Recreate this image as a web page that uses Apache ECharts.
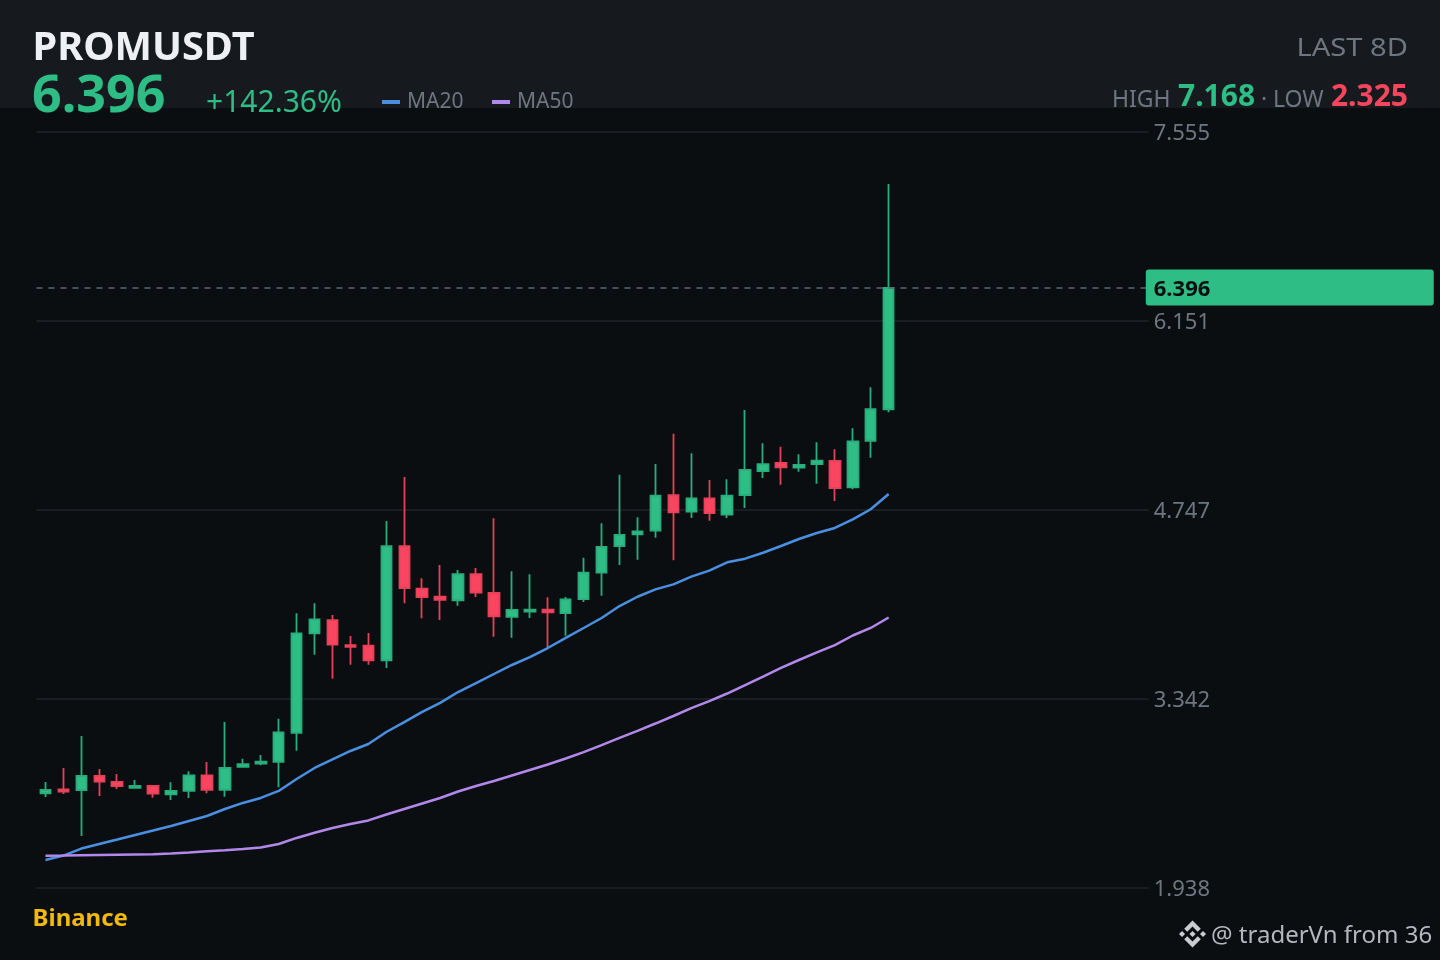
<!DOCTYPE html>
<html><head><meta charset="utf-8">
<style>html,body{margin:0;padding:0;background:#0b0e11}#c{width:1440px;height:960px}</style>
<script src="https://cdn.jsdelivr.net/npm/echarts@6/dist/echarts.min.js"></script>
</head><body><div id="c"></div>
<script>
const opens  = [2.642,2.671,2.666,2.770,2.726,2.683,2.696,2.634,2.659,2.775,2.668,2.839,2.862,2.876,3.090,3.830,3.929,3.743,3.738,3.630,4.477,4.162,4.102,4.076,4.269,4.130,3.952,3.991,4.006,3.981,4.085,4.281,4.479,4.566,4.593,4.856,4.734,4.833,4.712,4.858,5.036,5.096,5.061,5.088,5.111,4.915,5.261,5.495];
const closes = [2.666,2.654,2.770,2.728,2.696,2.696,2.639,2.659,2.775,2.668,2.830,2.859,2.876,3.095,3.830,3.934,3.746,3.729,3.630,4.477,4.167,4.100,4.078,4.269,4.132,3.957,4.004,4.006,3.986,4.083,4.281,4.472,4.561,4.588,4.853,4.729,4.833,4.724,4.853,5.044,5.088,5.064,5.081,5.113,4.910,5.257,5.495,6.396];
const lows   = [2.614,2.636,2.325,2.622,2.674,2.679,2.609,2.592,2.607,2.642,2.616,2.832,2.850,2.686,2.958,3.671,3.493,3.597,3.597,3.573,4.053,3.942,3.929,4.036,4.100,3.805,3.798,3.944,3.723,3.813,4.063,4.110,4.338,4.377,4.541,4.373,4.687,4.667,4.687,4.761,4.984,4.934,5.031,4.942,4.813,4.900,5.135,5.472];
const highs  = [2.726,2.830,3.067,2.822,2.785,2.740,2.703,2.723,2.805,2.874,3.171,2.899,2.926,3.196,3.979,4.053,3.966,3.810,3.833,4.665,4.992,4.239,4.338,4.301,4.316,4.685,4.291,4.269,4.098,4.100,4.392,4.648,5.009,4.692,5.088,5.313,5.168,4.969,4.975,5.490,5.242,5.217,5.160,5.250,5.198,5.354,5.658,7.168];
const ma20   = [2.146,2.179,2.231,2.265,2.298,2.332,2.365,2.399,2.436,2.473,2.525,2.570,2.607,2.659,2.748,2.830,2.893,2.956,3.008,3.097,3.171,3.246,3.313,3.394,3.461,3.528,3.595,3.654,3.721,3.796,3.870,3.944,4.033,4.102,4.157,4.194,4.251,4.296,4.358,4.385,4.429,4.479,4.531,4.576,4.613,4.677,4.752,4.865];
const ma50   = [2.178,2.179,2.181,2.183,2.185,2.187,2.188,2.194,2.202,2.211,2.219,2.228,2.239,2.265,2.310,2.349,2.384,2.414,2.440,2.484,2.525,2.566,2.607,2.655,2.696,2.733,2.774,2.815,2.856,2.900,2.948,3.000,3.053,3.105,3.160,3.216,3.275,3.327,3.383,3.446,3.509,3.573,3.632,3.688,3.743,3.814,3.870,3.948];
const yTicks = [1.938,3.342,4.747,6.151,7.555];
const lastPrice = 6.396;
const categories = opens.map((_, i) => String(i + 1));
const spareSlots = 14;
const allCategories = categories.concat(Array.from({length: spareSlots}, (_, i) => 'f' + i));

const GREEN = '#2ebd85', RED = '#f6465d', GREY = '#6f7682', FONT = '"Noto Sans"';
const txt = (x, y, text, size, fill, weight, align, extra) => Object.assign({
  type: 'text', x, y, z: 10,
  style: {text, fontSize: size, fontFamily: FONT, fontWeight: weight || 'normal', fill,
          align: align || 'left', verticalAlign: 'middle'}
}, extra || {});

const logoPieces = [
  [[38.73,53.2],[63.32,28.62],[87.92,53.22],[102.22,38.91],[63.32,0],[24.42,38.9]],
  [[0,63.31],[14.3,49],[28.61,63.31],[14.3,77.61]],
  [[38.73,73.41],[63.32,98],[87.92,73.4],[102.23,87.69],[63.33,126.6],[24.42,87.72]],
  [[98.28,63.31],[112.58,49],[126.89,63.3],[112.58,77.62]],
  [[77.83,63.3],[63.32,48.78],[48.81,63.28],[63.32,77.78]]
];

const chart = echarts.init(document.getElementById('c'), null, {renderer: 'canvas'});
chart.setOption({
  animation: false,
  backgroundColor: '#0b0e11',
  grid: {left: 36.5, top: 132, width: 17.94 * 62, height: 756, containLabel: false},
  xAxis: {type: 'category', data: allCategories, boundaryGap: true, show: false},
  yAxis: {
    type: 'value', position: 'right', min: yTicks[0], max: yTicks[4], scale: true,
    axisLine: {show: false},
    axisTick: {show: false, customValues: yTicks},
    splitLine: {show: true, lineStyle: {color: '#1a1e23', width: 2}},
    axisLabel: {customValues: yTicks, margin: 5, formatter: v => '{v|' + v.toFixed(3) + '}',
                rich: {v: {color: GREY, fontSize: 22, fontFamily: FONT, padding: [4, 0, 0, 0]}}}
  },
  series: [
    {
      type: 'candlestick', name: 'PROMUSDT', barWidth: 11, clip: false,
      data: opens.map((o, i) => [o, closes[i], lows[i], highs[i]]),
      itemStyle: {color: GREEN, color0: '#fa4560', borderColor: '#2aad7c', borderColor0: '#e54159', borderWidth: 1.8},
      markLine: {
        silent: true, symbol: 'none', animation: false,
        lineStyle: {type: [6, 6], color: '#5f6670', width: 1.5},
        label: {
          show: true, position: 'end', distance: 0, offset: [-3, 0], formatter: () => '{v|' + lastPrice.toFixed(3) + '}',
          backgroundColor: GREEN, align: 'left', verticalAlign: 'middle', width: 280, padding: [2, 0, 2, 8], borderRadius: 3,
          rich: {v: {color: '#0b0e11', fontSize: 22, fontWeight: 'bold', fontFamily: FONT, padding: [4, 0, 0, 0], lineHeight: 32}}
        },
        data: [{yAxis: lastPrice}]
      }
    },
    {type: 'line', name: 'MA20', data: ma20, showSymbol: false, symbol: 'none', lineStyle: {color: '#4a90e2', width: 2.5}, z: 3},
    {type: 'line', name: 'MA50', data: ma50, showSymbol: false, symbol: 'none', lineStyle: {color: '#b388eb', width: 2.5}, z: 3}
  ],
  graphic: [
    {type: 'rect', shape: {x: 0, y: 0, width: 1440, height: 108}, z: 0, style: {fill: '#16191e'}},
    txt(32.5, 48.5, 'PROMUSDT', 39.7, '#eef0f4', 'bold'),
    txt(32, 97, '6.396', 52, GREEN, 'bold'),
    txt(206, 103, '+142.36%', 30, GREEN),
    {type: 'rect', shape: {x: 382, y: 100, width: 18, height: 4}, z: 10, style: {fill: '#4a90e2'}},
    txt(407, 102.5, 'MA20', 21, GREY),
    {type: 'rect', shape: {x: 492, y: 100, width: 18, height: 4}, z: 10, style: {fill: '#b388eb'}},
    txt(517, 102.5, 'MA50', 21, GREY),
    txt(1408, 48.5, 'LAST 8D', 26, GREY, 'normal', 'right', {scaleX: 1.12}),
    txt(1112, 100, 'HIGH', 23, GREY),
    txt(1178, 97, '7.168', 30, GREEN, 'bold'),
    txt(1261, 100, '·', 23, GREY),
    txt(1273, 100, 'LOW', 23, GREY),
    txt(1408, 97, '2.325', 30, RED, 'bold', 'right'),
    txt(32.5, 919, 'Binance', 24, '#f0b90b', 'bold'),
    {type: 'group', x: 1179, y: 920.5, scaleX: 0.2133, scaleY: 0.2133, z: 10,
     children: logoPieces.map(points => ({type: 'polygon', z: 10, shape: {points}, style: {fill: '#c9ccd1'}}))},
    txt(1211, 936, '@ traderVn from 36', 24, '#b4b8be')
  ]
});
</script></body></html>
